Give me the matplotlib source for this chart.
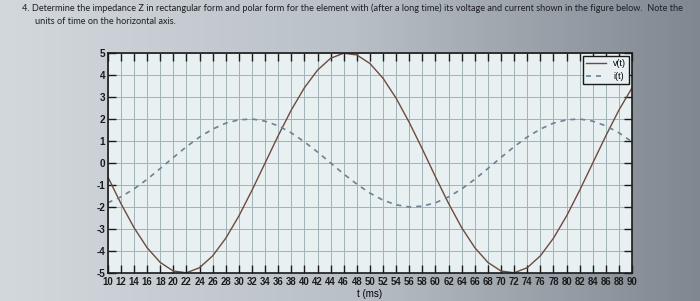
import numpy as np
import matplotlib.pyplot as plt
from matplotlib.colors import LinearSegmentedColormap

plt.rcParams['axes.unicode_minus'] = False

# time axis (ms) and readings taken off the chart every 2 ms
t_ms = list(range(10, 92, 2))
v_t = [-0.63, -1.84, -2.94, -3.85, -4.52, -4.91, -4.99, -4.76, -4.22, -3.42,
       -2.41, -1.24, 0.00, 1.24, 2.41, 3.42, 4.22, 4.76, 4.99, 4.91,
       4.52, 3.85, 2.94, 1.84, 0.63, -0.63, -1.84, -2.94, -3.85, -4.52,
       -4.91, -4.99, -4.76, -4.22, -3.42, -2.41, -1.24, 0.00, 1.24, 2.41,
       3.42]
i_t = [-1.81, -1.54, -1.18, -0.74, -0.25, 0.25, 0.74, 1.18, 1.54, 1.81,
       1.96, 2.00, 1.90, 1.69, 1.37, 0.96, 0.50, 0.00, -0.50, -0.96,
       -1.37, -1.69, -1.90, -2.00, -1.96, -1.81, -1.54, -1.18, -0.74, -0.25,
       0.25, 0.74, 1.18, 1.54, 1.81, 1.96, 2.00, 1.90, 1.69, 1.37,
       0.96]

x_ticks = list(range(10, 92, 2))
y_ticks = [5, 4, 3, 2, 1, 0, -1, -2, -3, -4, -5]

question = ("4. Determine the impedance Z in rectangular form and polar form for the element with "
            "(after a long time) its voltage and current shown in the figure below.  Note the")
question2 = "units of time on the horizontal axis."

fig = plt.figure(figsize=(7, 3.01), dpi=100)

# photo-like grey background
bg = fig.add_axes([0, 0, 1, 1])
paper = LinearSegmentedColormap.from_list('paper', ['#d3d8dd', '#b9c0c7', '#7f8790'])
grad = np.linspace(0, 1, 256)[None, :]
bg.imshow(grad, aspect='auto', cmap=paper, extent=[0, 1, 0, 1])
bg.axis('off')

fig.text(0.031, 0.988, question, ha='left', va='top', fontsize=6.6,
         family='Lato', color='#1c1e22')
fig.text(0.05, 0.943, question2, ha='left', va='top', fontsize=6.6,
         family='Lato', color='#1c1e22')

ax = fig.add_axes([0.154, 0.093, 0.749, 0.731])
ax.set_facecolor('#e8f0f2')

ax.plot(t_ms, v_t, color='#6e4a40', lw=1.0, label='v(t)')
ax.plot(t_ms, i_t, color='#6c8194', lw=1.2, dashes=(3, 3), label='i(t)')

ax.set_xlim(10, 90)
ax.set_ylim(-5, 5)
ax.set_xticks(x_ticks)
ax.set_yticks(y_ticks)
ax.tick_params(axis='both', direction='in', length=6, width=1, labelsize=6.9,
               top=True, right=True, colors='#1a1a1a')
ax.tick_params(axis='x', pad=3)
ax.tick_params(axis='y', pad=2, labelsize=7.2)
for lab in ax.get_xticklabels() + ax.get_yticklabels():
    lab.set_fontweight('bold')
    lab.set_family('Liberation Sans')
ax.grid(True, color='#9fb3b6', lw=0.7)
for s in ax.spines.values():
    s.set_color('#1a1a1a')
    s.set_linewidth(1.2)

ax.set_xlabel('t (ms)', fontsize=7, family='Liberation Sans', labelpad=1)

leg = ax.legend(loc='upper right', prop={'family': 'Liberation Sans', 'size': 6.5},
                frameon=True, fancybox=False, handlelength=2.2, borderaxespad=0.3,
                borderpad=0.35, labelspacing=0.45)
leg.get_frame().set_edgecolor('#1a1a1a')
leg.get_frame().set_facecolor('#e8f0f2')
leg.get_frame().set_alpha(1)

fig.savefig('out.png', dpi=100)
